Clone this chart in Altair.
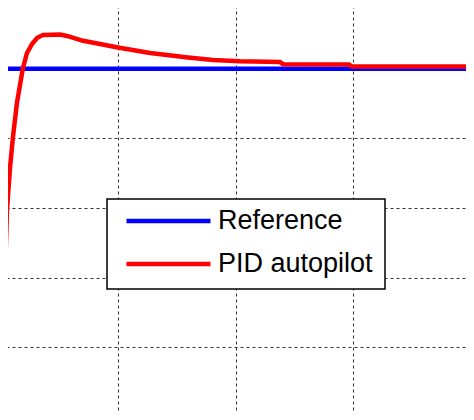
import altair as alt
import pandas as pd

# time axis (s) and responses
t_pid = [0.13, 0.21, 0.34, 0.42, 0.59, 0.85, 1.10, 1.44, 1.93, 2.29, 2.72, 3.14, 3.65,
         5.10, 5.69, 7.05, 8.49, 10.02, 12.74, 15.97, 18.09, 20.38, 23.78, 24.03,
         29.64, 29.89, 40.0]
y_pid = [0.0, 1.06, 2.12, 4.02, 5.94, 7.15, 8.04, 9.02, 9.99, 10.45, 10.71, 10.88, 10.97,
         10.98, 10.94, 10.80, 10.71, 10.61, 10.45, 10.32, 10.25, 10.21, 10.19, 10.13,
         10.12, 10.06, 10.06]
t_ref = [0.0, 40.0]
y_ref = [10.0, 10.0]
series = ["Reference", "PID autopilot"]
colors = ["#0000ff", "#ff0000"]
x_ticks = [0, 10, 20, 30, 40]
y_ticks = [0, 2, 4, 6, 8, 10, 12]

rows = [{"t": t, "y": v, "series": series[0], "k": 0} for t, v in zip(t_ref, y_ref)]
rows += [{"t": t, "y": v, "series": series[1], "k": 1} for t, v in zip(t_pid, y_pid)]
df = pd.DataFrame(rows)

chart = alt.Chart(df).mark_line(strokeWidth=4.5, clip=True).encode(
    x=alt.X("t:Q", scale=alt.Scale(domain=[0, 40], nice=False, zero=False),
            axis=alt.Axis(values=x_ticks, labels=False, ticks=False, domain=False,
                          title=None, grid=True)),
    y=alt.Y("y:Q", scale=alt.Scale(domain=[0, 12], nice=False, zero=False),
            axis=alt.Axis(values=y_ticks, labels=False, ticks=False, domain=False,
                          title=None, grid=True)),
    color=alt.Color("series:N", scale=alt.Scale(domain=series, range=colors),
                    legend=alt.Legend(orient="none", legendX=107, legendY=200,
                                      title=None, symbolType="stroke", symbolSize=7056,
                                      symbolStrokeWidth=4.5, clipHeight=20, rowPadding=16,
                                      padding=12, symbolOffset=5, labelOffset=5,
                                      labelFontSize=27, labelFont="Liberation Sans",
                                      labelColor="black", strokeColor="black",
                                      fillColor="white", cornerRadius=0)),
    order=alt.Order("k:Q"),
    detail="series:N",
).properties(
    width=471, height=418,
    autosize=alt.AutoSizeParams(type="none"),
    padding={"left": -8, "top": -9, "right": -5, "bottom": -5},
).configure_axis(
    gridDash=[3, 3], gridColor="#333333", gridWidth=1, gridOpacity=1,
).configure_view(
    stroke="black", strokeWidth=2,
).configure_legend(
    strokeWidth=1.5,
)

chart.save("out.html", embed_options={"renderer": "svg", "actions": False})
